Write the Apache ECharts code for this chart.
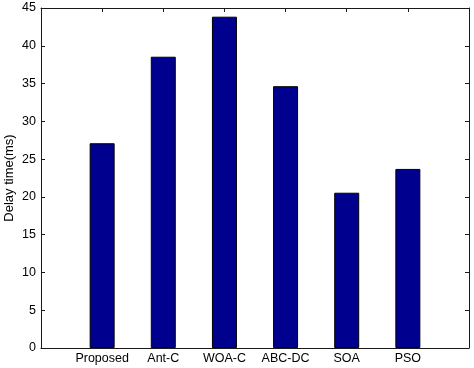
<!DOCTYPE html>
<html><head><meta charset="utf-8">
<script src="https://cdn.jsdelivr.net/npm/echarts@6/dist/echarts.min.js"></script>
<style>html,body{margin:0;padding:0;background:#fff}#c{width:474px;height:368px}</style>
</head><body><div id="c"></div>
<script>
const categories = ["Proposed", "Ant-C", "WOA-C", "ABC-DC", "SOA", "PSO"];
const delayValues = [27.1, 38.55, 43.85, 34.65, 20.55, 23.7];
const yTicks = [0, 5, 10, 15, 20, 25, 30, 35, 40, 45];

const barData = categories.map((c, i) => [i + 1, delayValues[i]]);
const font = 'Liberation Sans, Arial, sans-serif';
const lineStyle = { color: '#1a1a1a', width: 1 };

const chart = echarts.init(document.getElementById('c'));
chart.setOption({
  animation: false,
  grid: { left: 41, right: 5, top: 8, bottom: 20, containLabel: false, outerBoundsMode: 'none' },
  xAxis: [{
    type: 'value', min: 0, max: 7, interval: 1, position: 'bottom',
    axisLine: { show: true, onZero: false, lineStyle },
    axisTick: { show: true, inside: true, length: 4, lineStyle },
    splitLine: { show: false },
    axisLabel: {
      color: '#000', fontFamily: font, fontSize: 12.5, margin: 4,
      formatter: v => (v >= 1 && v <= categories.length) ? categories[v - 1] : ''
    }
  }, {
    type: 'value', min: 0, max: 7, interval: 1, position: 'top',
    axisLine: { show: true, onZero: false, lineStyle },
    axisTick: { show: true, inside: true, length: 4, lineStyle },
    splitLine: { show: false },
    axisLabel: { show: false }
  }],
  yAxis: [{
    type: 'value', min: yTicks[0], max: yTicks[yTicks.length - 1], interval: 5,
    position: 'left',
    name: 'Delay time(ms)', nameLocation: 'middle', nameGap: 25, nameMoveOverlap: false,
    nameTextStyle: { color: '#000', fontFamily: font, fontSize: 13 },
    axisLine: { show: true, onZero: false, lineStyle },
    axisTick: { show: true, inside: true, length: 4, lineStyle },
    splitLine: { show: false },
    axisLabel: { color: '#000', fontFamily: font, fontSize: 12.5, margin: 5 }
  }, {
    type: 'value', min: yTicks[0], max: yTicks[yTicks.length - 1], interval: 5,
    position: 'right',
    axisLine: { show: true, onZero: false, lineStyle },
    axisTick: { show: true, inside: true, length: 4, lineStyle },
    splitLine: { show: false },
    axisLabel: { show: false }
  }],
  series: [{
    type: 'bar', data: barData, barWidth: 25,
    xAxisIndex: 0, yAxisIndex: 0,
    itemStyle: { color: '#00008F', borderColor: '#000', borderWidth: 1 }
  }]
});
</script></body></html>
